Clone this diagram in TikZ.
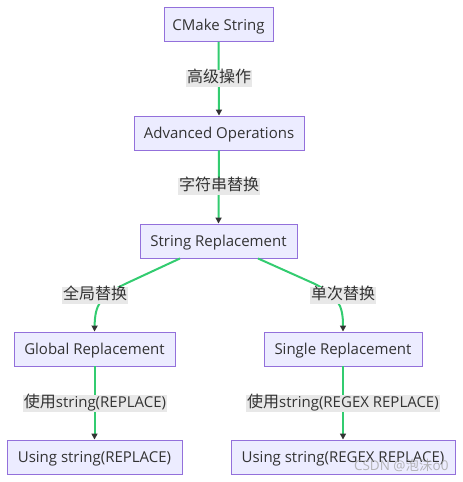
\documentclass[tikz,border=0pt]{standalone}
\usepackage{fontspec}
\setmainfont{Open Sans}
\newfontfamily\cjk{Noto Sans CJK SC}
\usetikzlibrary{arrows.meta,calc}
\definecolor{boxfill}{HTML}{ECECFF}
\definecolor{boxline}{HTML}{9370DB}
\definecolor{edgec}{HTML}{33CC70}
\definecolor{tipc}{HTML}{333333}
\definecolor{lblbg}{HTML}{E8E8E8}
\definecolor{txt}{HTML}{333333}
\tikzset{
  box/.style={draw=boxline, fill=boxfill, line width=0.9pt, minimum height=34pt, inner xsep=0pt, text height=12pt, text depth=1pt, text=txt, font=\fontsize{15}{16}\selectfont},
  edge/.style={draw=edgec, line width=2pt, -{Triangle[length=6pt,width=6pt,color=tipc]}},
  lbl/.style={fill=lblbg, text=txt, inner xsep=1pt, inner ysep=1pt, text height=12pt, text depth=3pt, font=\fontsize{15}{16}\selectfont},
  cj/.style={font=\cjk\fontsize{16}{18}\selectfont}
}
\begin{document}
\begin{tikzpicture}[x=1pt,y=-1pt]
\useasboundingbox (0,0) rectangle (463,482);
\node[box, minimum width=109pt] (cs) at (218.5,24.5) {CMake String};
\node[box, minimum width=170pt] (ao) at (219,133) {Advanced Operations};
\node[box, minimum width=157pt] (sr) at (218.5,241) {String Replacement};
\node[box, minimum width=161pt] (gr) at (94.5,349) {Global Replacement};
\node[box, minimum width=158pt] (sg) at (343,349) {Single Replacement};
\node[box, minimum width=175pt] (ur) at (94.5,457) {Using string(REPLACE)};
\node[box, minimum width=224pt] (urr) at (343,457) {Using string(REGEX REPLACE)};

\draw[edge] (cs.south) -- (ao.north);
\draw[edge] (ao.south) -- (sr.north);
\draw[edge] ($(sr.south)+(-38.5,0)$) -- (125,284) .. controls (100,296) and (95,305) .. (gr.north);
\draw[edge] ($(sr.south)+(39.5,0)$) -- (315,284) .. controls (338,296) and (343,305) .. (sg.north);
\draw[edge] (gr.south) -- (ur.north);
\draw[edge] (sg.south) -- (urr.north);

\node[lbl, cj] (l1) at (219,78) {高级操作};
\node[lbl, cj] (l2) at (219,186) {字符串替换};
\node[lbl, cj] (l3) at (95,295) {全局替换};
\node[lbl, cj] (l4) at (343,295) {单次替换};
\node[lbl] (l5) at (95,403) {{\cjk\fontsize{16}{18}\selectfont 使用}string(REPLACE)};
\node[lbl] (l6) at (343,403) {{\cjk\fontsize{16}{18}\selectfont 使用}string(REGEX REPLACE)};

\node[text=black!35, opacity=0.8, anchor=east, font=\fontsize{13.5}{15}\selectfont] (wm) at (452,465) {CSDN @{\cjk 泡沫}o0};
\end{tikzpicture}
\end{document}
